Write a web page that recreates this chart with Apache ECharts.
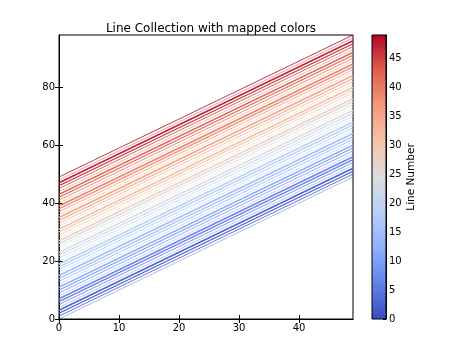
<!DOCTYPE html>
<html><head><meta charset="utf-8">
<script src="https://cdn.jsdelivr.net/npm/echarts@6/dist/echarts.min.js"></script>
<style>html,body{margin:0;padding:0;background:#fff}#c{width:474px;height:355px}</style>
</head><body><div id="c"></div>
<script>
const lineNumbers = [0,1,2,3,4,5,6,7,8,9,10,11,12,13,14,15,16,17,18,19,20,21,22,23,24,25,26,27,28,29,30,31,32,33,34,35,36,37,38,39,40,41,42,43,44,45,46,47,48,49];
const xStart = 0, xEnd = 49;
const startValues = [0,1,2,3,4,5,6,7,8,9,10,11,12,13,14,15,16,17,18,19,20,21,22,23,24,25,26,27,28,29,30,31,32,33,34,35,36,37,38,39,40,41,42,43,44,45,46,47,48,49];
const endValues = [49,50,51,52,53,54,55,56,57,58,59,60,61,62,63,64,65,66,67,68,69,70,71,72,73,74,75,76,77,78,79,80,81,82,83,84,85,86,87,88,89,90,91,92,93,94,95,96,97,98];
const xTicks = [0,10,20,30,40];
const yTicks = [0,20,40,60,80];
const cbTicks = [0,5,10,15,20,25,30,35,40,45];
const lineWidths = [0.4, 0.8, 1.2, 1.6];
const colorbarMin = 0, colorbarMax = 49;

// coolwarm colormap stops
const cmStops = [[59,76,192],[98,130,234],[141,176,254],[184,208,249],[221,221,221],[245,196,173],[244,154,123],[222,96,77],[180,4,38]];
function cmap(t){
  t = Math.max(0, Math.min(1, t));
  const p = t*(cmStops.length-1), i = Math.min(Math.floor(p), cmStops.length-2), f = p - i;
  const a = cmStops[i], b = cmStops[i+1];
  return 'rgb(' + [0,1,2].map(k => Math.round(a[k]+(b[k]-a[k])*f)).join(',') + ')';
}
const font = 'DejaVu Sans';
const series = lineNumbers.map((n, idx) => ({
  type: 'line', xAxisIndex: 0, yAxisIndex: 0, symbol: 'none', silent: true, animation: false,
  data: [[xStart, startValues[idx]], [xEnd, endValues[idx]]],
  lineStyle: { color: cmap((n - colorbarMin)/(colorbarMax - colorbarMin)), width: lineWidths[idx % 4] }
}));
series.push({
  type: 'bar', xAxisIndex: 2, yAxisIndex: 2, barWidth: '100%', silent: true, animation: false,
  data: [colorbarMax],
  itemStyle: { color: { type: 'linear', x: 0, y: 1, x2: 0, y2: 0,
    colorStops: cmStops.map((c, i) => ({ offset: i/(cmStops.length-1), color: 'rgb(' + c.join(',') + ')' })) } }
});
function tick(vals, len){ return { show: true, inside: true, length: len, customValues: vals, lineStyle: { color: '#000', width: 1 } }; }
const labelStyle = { color: '#000', fontFamily: font, fontSize: 10 };
const chart = echarts.init(document.getElementById('c'), null, { renderer: 'canvas' });
chart.setOption({
  animation: false,
  title: { text: 'Line Collection with mapped colors', left: 206, top: 18, textAlign: 'center',
    textStyle: { fontFamily: font, fontSize: 12, fontWeight: 'normal', color: '#000' } },
  grid: [
    { left: 59, top: 35, width: 294, height: 284, show: true, borderColor: '#000', borderWidth: 1, backgroundColor: 'transparent' },
    { left: 372, top: 35, width: 14, height: 284, show: true, borderColor: '#000', borderWidth: 1, backgroundColor: 'transparent', z: 5 }
  ],
  xAxis: [
    { type: 'value', gridIndex: 0, min: 0, max: 49, interval: 10, position: 'bottom',
      axisLine: { show: true, lineStyle: { color: '#000' } }, axisTick: tick(xTicks, 4), splitLine: { show: false },
      axisLabel: Object.assign({ customValues: xTicks, margin: 4 }, labelStyle) },
    { type: 'value', gridIndex: 0, min: 0, max: 49, interval: 10, position: 'top',
      axisLine: { show: true, lineStyle: { color: '#000' } }, axisTick: tick(xTicks, 4), splitLine: { show: false },
      axisLabel: { show: false } },
    { type: 'category', gridIndex: 1, data: ['cb'], show: false, boundaryGap: true }
  ],
  yAxis: [
    { type: 'value', gridIndex: 0, min: 0, max: 98, interval: 20, position: 'left',
      axisLine: { show: true, lineStyle: { color: '#000' } }, axisTick: tick(yTicks, 4), splitLine: { show: false },
      axisLabel: Object.assign({ customValues: yTicks, margin: 4 }, labelStyle) },
    { type: 'value', gridIndex: 0, min: 0, max: 98, interval: 20, position: 'right',
      axisLine: { show: true, lineStyle: { color: '#000' } }, axisTick: tick(yTicks, 4), splitLine: { show: false },
      axisLabel: { show: false } },
    { type: 'value', gridIndex: 1, min: colorbarMin, max: colorbarMax, interval: 5, position: 'right',
      axisLine: { show: true, lineStyle: { color: '#000' } }, axisTick: tick(cbTicks, 3),
      splitLine: { show: false },
      axisLabel: Object.assign({ customValues: cbTicks, margin: 3 }, labelStyle),
      name: 'Line Number', nameLocation: 'middle', nameRotate: 90, nameGap: 18,
      nameTextStyle: { fontFamily: font, fontSize: 10.5, color: '#000' } }
  ],
  series: series
});
</script></body></html>
